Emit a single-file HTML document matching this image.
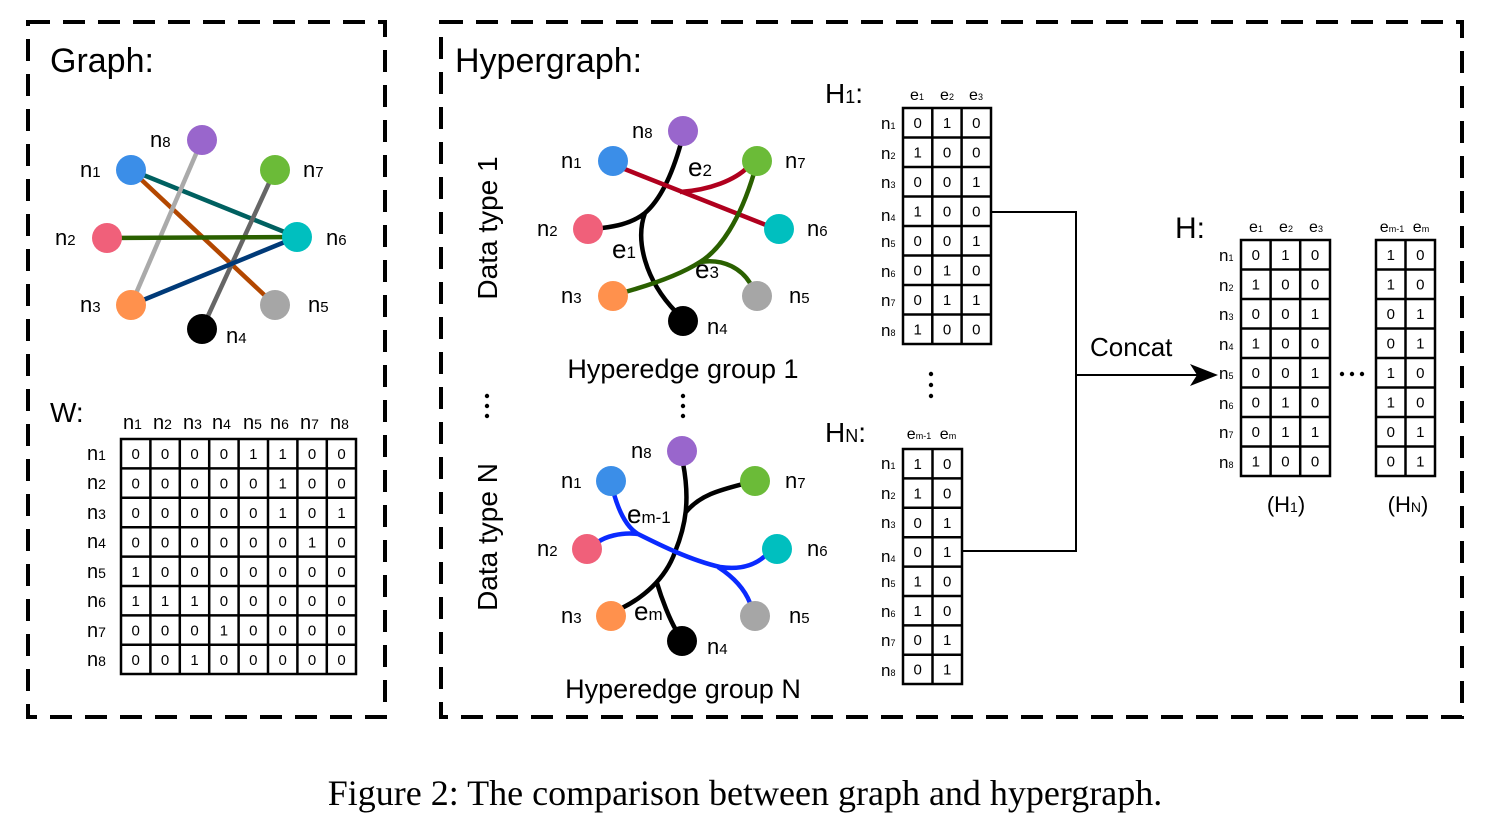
<!DOCTYPE html>
<html><head><meta charset="utf-8"><style>
body{margin:0;background:#fff}
svg{display:block;font-family:"Liberation Sans",Arial,sans-serif}
</style></head><body>
<svg width="1505" height="829" viewBox="0 0 1505 829" xmlns="http://www.w3.org/2000/svg">
<g fill="none" stroke="#000" stroke-width="4" stroke-dasharray="22 13">
<rect x="28" y="22" width="357" height="695"/>
<rect x="441" y="22" width="1021" height="695"/>
</g>
<text x="50" y="72" font-size="34">Graph:</text>
<text x="455" y="72" font-size="34">Hypergraph:</text>

<!-- Graph edges -->
<g stroke-width="4.5" fill="none">
<line x1="131" y1="170" x2="297" y2="237" stroke="#006060"/>
<line x1="131" y1="170" x2="275" y2="305" stroke="#b34700"/>
<line x1="202" y1="140" x2="131" y2="305" stroke="#aaaaaa"/>
<line x1="275" y1="170" x2="202" y2="329" stroke="#666666"/>
<line x1="107" y1="238" x2="297" y2="237" stroke="#2a6000"/>
<line x1="131" y1="305" x2="297" y2="237" stroke="#003a78"/>
</g>
<g>
<circle cx="202" cy="140" r="15" fill="#9966cc"/><circle cx="131" cy="170" r="15" fill="#3b8ee8"/>
<circle cx="275" cy="170" r="15" fill="#6bbb38"/><circle cx="107" cy="238" r="15" fill="#f0607a"/>
<circle cx="297" cy="237" r="15" fill="#00bfbf"/><circle cx="131" cy="305" r="15" fill="#ff914d"/>
<circle cx="275" cy="305" r="15" fill="#a6a6a6"/><circle cx="202" cy="329" r="15" fill="#000"/>
</g>
<g font-size="22">
<text x="150" y="147">n<tspan font-size="15">8</tspan></text>
<text x="80" y="177">n<tspan font-size="15">1</tspan></text>
<text x="303" y="177">n<tspan font-size="15">7</tspan></text>
<text x="55" y="245">n<tspan font-size="15">2</tspan></text>
<text x="326" y="245">n<tspan font-size="15">6</tspan></text>
<text x="80" y="312">n<tspan font-size="15">3</tspan></text>
<text x="308" y="312">n<tspan font-size="15">5</tspan></text>
<text x="226" y="343">n<tspan font-size="15">4</tspan></text>
</g>

<!-- W matrix -->
<text x="50" y="422" font-size="28">W:</text>
<g font-size="20">
<text x="123" y="429">n<tspan font-size="14">1</tspan></text><text x="153" y="429">n<tspan font-size="14">2</tspan></text>
<text x="183" y="429">n<tspan font-size="14">3</tspan></text><text x="212" y="429">n<tspan font-size="14">4</tspan></text>
<text x="243" y="429">n<tspan font-size="14">5</tspan></text><text x="270" y="429">n<tspan font-size="14">6</tspan></text>
<text x="300" y="429">n<tspan font-size="14">7</tspan></text><text x="330" y="429">n<tspan font-size="14">8</tspan></text>
<text x="87" y="460">n<tspan font-size="14">1</tspan></text><text x="87" y="489">n<tspan font-size="14">2</tspan></text>
<text x="87" y="519">n<tspan font-size="14">3</tspan></text><text x="87" y="548">n<tspan font-size="14">4</tspan></text>
<text x="87" y="578">n<tspan font-size="14">5</tspan></text><text x="87" y="607">n<tspan font-size="14">6</tspan></text>
<text x="87" y="637">n<tspan font-size="14">7</tspan></text><text x="87" y="666">n<tspan font-size="14">8</tspan></text>
</g>
<g stroke="#000" stroke-width="2.5" fill="none">
<rect x="121" y="439" width="235" height="235"/>
<path d="M150.4 439V674M179.8 439V674M209.2 439V674M238.6 439V674M268 439V674M297.4 439V674M326.8 439V674M121 468.4H356M121 497.8H356M121 527.2H356M121 556.6H356M121 586H356M121 615.4H356M121 644.8H356"/>
</g>
<g font-size="15" text-anchor="middle">
<text x="135.7 165.1 194.5 223.9 253.3 282.7 312.1 341.5" y="459">00001100</text>
<text x="135.7 165.1 194.5 223.9 253.3 282.7 312.1 341.5" y="488.5">00000100</text>
<text x="135.7 165.1 194.5 223.9 253.3 282.7 312.1 341.5" y="518">00000101</text>
<text x="135.7 165.1 194.5 223.9 253.3 282.7 312.1 341.5" y="547.5">00000010</text>
<text x="135.7 165.1 194.5 223.9 253.3 282.7 312.1 341.5" y="577">10000000</text>
<text x="135.7 165.1 194.5 223.9 253.3 282.7 312.1 341.5" y="606">11100000</text>
<text x="135.7 165.1 194.5 223.9 253.3 282.7 312.1 341.5" y="635.5">00010000</text>
<text x="135.7 165.1 194.5 223.9 253.3 282.7 312.1 341.5" y="665">00100000</text>
</g>

<!-- Data type labels -->
<text transform="translate(497,228) rotate(-90)" font-size="28" text-anchor="middle">Data type 1</text>
<text transform="translate(497,537) rotate(-90)" font-size="28" text-anchor="middle">Data type N</text>
<g fill="#000">
<circle cx="487" cy="396" r="2.2"/><circle cx="487" cy="406" r="2.2"/><circle cx="487" cy="416" r="2.2"/>
<circle cx="683" cy="396" r="2.2"/><circle cx="683" cy="406" r="2.2"/><circle cx="683" cy="416" r="2.2"/>
<circle cx="931" cy="374" r="2.2"/><circle cx="931" cy="385" r="2.2"/><circle cx="931" cy="396" r="2.2"/>
<circle cx="1342" cy="374" r="2.2"/><circle cx="1352" cy="374" r="2.2"/><circle cx="1362" cy="374" r="2.2"/>
</g>

<!-- Hypergraph 1 edges -->
<g fill="none" stroke-width="4.5">
<path d="M681 143C672 175 660 200 645 213C630 225 610 227 602 228M645 213C635 240 645 280 676 312" stroke="#000"/>
<path d="M622 168L766 225M680 192C710 190 735 180 748 167" stroke="#b0001e"/>
<path d="M754 173C740 220 720 250 700 262C680 275 650 285 625 292M700 262C725 258 742 270 750 283" stroke="#2a6000"/>
</g>
<!-- Hypergraph N edges -->
<g fill="none" stroke-width="4.5">
<path d="M683 463C690 500 686 525 675 552C665 580 642 598 622 608M686 512C700 495 720 490 743 484M657 583C662 600 670 620 676 630" stroke="#000"/>
<path d="M614 494C620 515 628 528 638 534C660 545 690 560 720 567C740 570 755 565 765 556M638 534C620 532 605 537 598 542M718 567C735 578 745 590 750 603" stroke="#0a2aff"/>
</g>
<g>
<circle cx="683" cy="131" r="15" fill="#9966cc"/><circle cx="613" cy="161" r="15" fill="#3b8ee8"/>
<circle cx="757" cy="161" r="15" fill="#6bbb38"/><circle cx="588" cy="229" r="15" fill="#f0607a"/>
<circle cx="779" cy="229" r="15" fill="#00bfbf"/><circle cx="613" cy="296" r="15" fill="#ff914d"/>
<circle cx="757" cy="296" r="15" fill="#a6a6a6"/><circle cx="683" cy="321" r="15" fill="#000"/>
<circle cx="682" cy="451" r="15" fill="#9966cc"/><circle cx="611" cy="481" r="15" fill="#3b8ee8"/>
<circle cx="755" cy="481" r="15" fill="#6bbb38"/><circle cx="587" cy="549" r="15" fill="#f0607a"/>
<circle cx="777" cy="549" r="15" fill="#00bfbf"/><circle cx="611" cy="616" r="15" fill="#ff914d"/>
<circle cx="755" cy="616" r="15" fill="#a6a6a6"/><circle cx="682" cy="641" r="15" fill="#000"/>
</g>
<g font-size="22">
<text x="632" y="138">n<tspan font-size="15">8</tspan></text>
<text x="561" y="168">n<tspan font-size="15">1</tspan></text>
<text x="785" y="168">n<tspan font-size="15">7</tspan></text>
<text x="537" y="236">n<tspan font-size="15">2</tspan></text>
<text x="807" y="236">n<tspan font-size="15">6</tspan></text>
<text x="561" y="303">n<tspan font-size="15">3</tspan></text>
<text x="789" y="303">n<tspan font-size="15">5</tspan></text>
<text x="707" y="334">n<tspan font-size="15">4</tspan></text>
<text x="631" y="458">n<tspan font-size="15">8</tspan></text>
<text x="561" y="488">n<tspan font-size="15">1</tspan></text>
<text x="785" y="488">n<tspan font-size="15">7</tspan></text>
<text x="537" y="556">n<tspan font-size="15">2</tspan></text>
<text x="807" y="556">n<tspan font-size="15">6</tspan></text>
<text x="561" y="623">n<tspan font-size="15">3</tspan></text>
<text x="789" y="623">n<tspan font-size="15">5</tspan></text>
<text x="707" y="654">n<tspan font-size="15">4</tspan></text>
</g>
<g font-size="26">
<text x="688" y="176">e<tspan font-size="17">2</tspan></text>
<text x="612" y="258">e<tspan font-size="17">1</tspan></text>
<text x="695" y="278">e<tspan font-size="17">3</tspan></text>
<text x="627" y="523">e<tspan font-size="17">m-1</tspan></text>
<text x="634" y="620">e<tspan font-size="17">m</tspan></text>
</g>
<text x="683" y="378" font-size="27" text-anchor="middle">Hyperedge group 1</text>
<text x="683" y="698" font-size="27" text-anchor="middle">Hyperedge group N</text>

<!-- H1 -->
<text x="825" y="103" font-size="28">H<tspan font-size="18">1</tspan>:</text>
<g font-size="16" text-anchor="middle">
<text x="917" y="100">e<tspan font-size="9">1</tspan></text><text x="947" y="100">e<tspan font-size="9">2</tspan></text><text x="976" y="100">e<tspan font-size="9">3</tspan></text>
</g>
<g font-size="17">
<text x="881" y="129">n<tspan font-size="9">1</tspan></text><text x="881" y="159">n<tspan font-size="9">2</tspan></text>
<text x="881" y="188">n<tspan font-size="9">3</tspan></text><text x="881" y="221">n<tspan font-size="9">4</tspan></text>
<text x="881" y="247">n<tspan font-size="9">5</tspan></text><text x="881" y="277">n<tspan font-size="9">6</tspan></text>
<text x="881" y="306">n<tspan font-size="9">7</tspan></text><text x="881" y="336">n<tspan font-size="9">8</tspan></text>
</g>
<g stroke="#000" stroke-width="2.5" fill="none">
<rect x="903" y="108" width="88" height="236"/>
<path d="M932.3 108V344M961.6 108V344M903 137.5H991M903 167H991M903 196.5H991M903 226H991M903 255.5H991M903 285H991M903 314.5H991"/>
<rect x="903" y="449" width="59" height="235"/>
<path d="M932.5 449V684M903 478.4H962M903 507.8H962M903 537.2H962M903 566.6H962M903 596H962M903 625.4H962M903 654.8H962"/>
<rect x="1241" y="240" width="89" height="236"/>
<path d="M1270.6 240V476M1300.2 240V476M1241 269.5H1330M1241 299H1330M1241 328.5H1330M1241 358H1330M1241 387.5H1330M1241 417H1330M1241 446.5H1330"/>
<rect x="1376" y="240" width="59" height="236"/>
<path d="M1405.5 240V476M1376 269.5H1435M1376 299H1435M1376 328.5H1435M1376 358H1435M1376 387.5H1435M1376 417H1435M1376 446.5H1435"/>
<path d="M991 212H1076V551H962M1076 375H1205" stroke-width="2"/>
</g>
<path d="M1218 375L1190 364L1197 375L1190 386Z" fill="#000"/>
<g font-size="15" text-anchor="middle">
<text x="917.7 947 976.3" y="128">010</text><text x="917.7 947 976.3" y="157.5">100</text>
<text x="917.7 947 976.3" y="187">001</text><text x="917.7 947 976.3" y="216.5">100</text>
<text x="917.7 947 976.3" y="246">001</text><text x="917.7 947 976.3" y="275.5">010</text>
<text x="917.7 947 976.3" y="305">011</text><text x="917.7 947 976.3" y="334.5">100</text>
<text x="917.7 947.2" y="469">10</text><text x="917.7 947.2" y="498.5">10</text>
<text x="917.7 947.2" y="528">01</text><text x="917.7 947.2" y="557">01</text>
<text x="917.7 947.2" y="586.5">10</text><text x="917.7 947.2" y="616">10</text>
<text x="917.7 947.2" y="645">01</text><text x="917.7 947.2" y="674.5">01</text>
<text x="1255.8 1285.4 1315" y="260">010</text><text x="1255.8 1285.4 1315" y="289.5">100</text>
<text x="1255.8 1285.4 1315" y="319">001</text><text x="1255.8 1285.4 1315" y="348.5">100</text>
<text x="1255.8 1285.4 1315" y="378">001</text><text x="1255.8 1285.4 1315" y="407.5">010</text>
<text x="1255.8 1285.4 1315" y="437">011</text><text x="1255.8 1285.4 1315" y="466.5">100</text>
<text x="1390.8 1420.3" y="260">10</text><text x="1390.8 1420.3" y="289.5">10</text>
<text x="1390.8 1420.3" y="319">01</text><text x="1390.8 1420.3" y="348.5">01</text>
<text x="1390.8 1420.3" y="378">10</text><text x="1390.8 1420.3" y="407.5">10</text>
<text x="1390.8 1420.3" y="437">01</text><text x="1390.8 1420.3" y="466.5">01</text>
</g>

<!-- HN -->
<text x="825" y="442" font-size="28">H<tspan font-size="18">N</tspan>:</text>
<g font-size="16" text-anchor="middle">
<text x="919" y="439">e<tspan font-size="9">m-1</tspan></text><text x="948" y="439">e<tspan font-size="9">m</tspan></text>
</g>
<g font-size="17">
<text x="881" y="469">n<tspan font-size="9">1</tspan></text><text x="881" y="499">n<tspan font-size="9">2</tspan></text>
<text x="881" y="528">n<tspan font-size="9">3</tspan></text><text x="881" y="562">n<tspan font-size="9">4</tspan></text>
<text x="881" y="587">n<tspan font-size="9">5</tspan></text><text x="881" y="617">n<tspan font-size="9">6</tspan></text>
<text x="881" y="646">n<tspan font-size="9">7</tspan></text><text x="881" y="676">n<tspan font-size="9">8</tspan></text>
</g>

<!-- H -->
<text x="1090" y="356" font-size="26">Concat</text>
<text x="1175" y="238" font-size="30">H:</text>
<g font-size="16" text-anchor="middle">
<text x="1256" y="232">e<tspan font-size="9">1</tspan></text><text x="1286" y="232">e<tspan font-size="9">2</tspan></text><text x="1316" y="232">e<tspan font-size="9">3</tspan></text>
<text x="1392" y="232">e<tspan font-size="9">m-1</tspan></text><text x="1421" y="232">e<tspan font-size="9">m</tspan></text>
</g>
<g font-size="17">
<text x="1219" y="261">n<tspan font-size="9">1</tspan></text><text x="1219" y="291">n<tspan font-size="9">2</tspan></text>
<text x="1219" y="320">n<tspan font-size="9">3</tspan></text><text x="1219" y="350">n<tspan font-size="9">4</tspan></text>
<text x="1219" y="379">n<tspan font-size="9">5</tspan></text><text x="1219" y="409">n<tspan font-size="9">6</tspan></text>
<text x="1219" y="438">n<tspan font-size="9">7</tspan></text><text x="1219" y="468">n<tspan font-size="9">8</tspan></text>
</g>
<text x="1286" y="512" font-size="22" text-anchor="middle">(H<tspan font-size="14">1</tspan>)</text>
<text x="1408" y="512" font-size="22" text-anchor="middle">(H<tspan font-size="14">N</tspan>)</text>

<text x="745" y="805" font-size="36" font-family="Liberation Serif,serif" text-anchor="middle">Figure 2: The comparison between graph and hypergraph.</text>
</svg>
</body></html>
